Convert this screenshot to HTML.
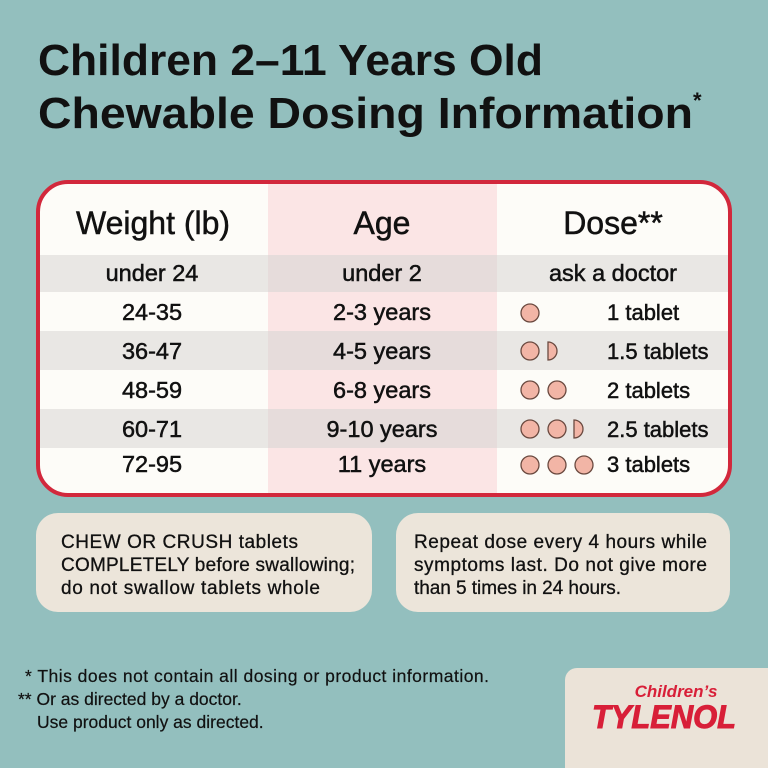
<!DOCTYPE html>
<html><head><style>body{margin:0}svg{display:block}</style></head><body>
<svg width="768" height="768" viewBox="0 0 768 768" xmlns="http://www.w3.org/2000/svg" font-family="Liberation Sans, sans-serif">
<rect width="768" height="768" fill="#93bfbe"/>
<g fill="#111" font-weight="bold">
<text x="38" y="75" font-size="44" textLength="505" lengthAdjust="spacingAndGlyphs">Children 2–11 Years Old</text>
<text x="38" y="128" font-size="44" textLength="655" lengthAdjust="spacingAndGlyphs">Chewable Dosing Information</text>
<text x="693" y="108" font-size="22">*</text>
</g>
<defs><clipPath id="c"><rect x="38" y="182" width="692" height="313" rx="30"/></clipPath></defs>
<g clip-path="url(#c)">
<rect x="38" y="182" width="692" height="313" fill="#fdfcf8"/>
<rect x="268" y="182" width="229" height="313" fill="#fbe5e5"/>
<rect x="38" y="255" width="692" height="37" fill="#e9e7e4"/>
<rect x="38" y="331" width="692" height="39" fill="#e9e7e4"/>
<rect x="38" y="409" width="692" height="39" fill="#e9e7e4"/>
<rect x="268" y="255" width="229" height="37" fill="#e6dcdb"/>
<rect x="268" y="331" width="229" height="39" fill="#e6dcdb"/>
<rect x="268" y="409" width="229" height="39" fill="#e6dcdb"/>
</g>
<rect x="38" y="182" width="692" height="313" rx="30" fill="none" stroke="#d2283c" stroke-width="4"/>
<g fill="#111" stroke="#111" stroke-width="0.5" text-anchor="middle">
<g font-size="32"><text x="153" y="234">Weight (lb)</text><text x="382" y="234">Age</text><text x="613" y="234">Dose**</text></g>
<g font-size="23.5">
<text x="152" y="281">under 24</text><text x="382" y="281">under 2</text><text x="613" y="281">ask a doctor</text>
<text x="152" y="320">24-35</text><text x="382" y="320">2-3 years</text>
<text x="152" y="359">36-47</text><text x="382" y="359">4-5 years</text>
<text x="152" y="398">48-59</text><text x="382" y="398">6-8 years</text>
<text x="152" y="437">60-71</text><text x="382" y="437">9-10 years</text>
<text x="152" y="472">72-95</text><text x="382" y="472">11 years</text>
</g>
<g font-size="22" text-anchor="start">
<text x="607" y="320">1 tablet</text><text x="607" y="359">1.5 tablets</text><text x="607" y="398">2 tablets</text><text x="607" y="437">2.5 tablets</text><text x="607" y="472">3 tablets</text>
</g>
</g>
<g fill="#f2b5a6" stroke="#6b4a40" stroke-width="1.3">
<circle cx="530" cy="313" r="9"/>
<circle cx="530" cy="351" r="9"/><path d="M548 342 a9 9 0 0 1 0 18 z"/>
<circle cx="530" cy="390" r="9"/><circle cx="557" cy="390" r="9"/>
<circle cx="530" cy="429" r="9"/><circle cx="557" cy="429" r="9"/><path d="M574 420 a9 9 0 0 1 0 18 z"/>
<circle cx="530" cy="465" r="9"/><circle cx="557" cy="465" r="9"/><circle cx="584" cy="465" r="9"/>
</g>
<rect x="36" y="513" width="336" height="99" rx="22" fill="#ece5da"/>
<rect x="396" y="513" width="334" height="99" rx="22" fill="#ece5da"/>
<g fill="#111" stroke="#111" stroke-width="0.3" font-size="19">
<text x="61" y="548" textLength="237">CHEW OR CRUSH tablets</text>
<text x="61" y="571" textLength="294">COMPLETELY before swallowing;</text>
<text x="61" y="594" textLength="259">do not swallow tablets whole</text>
<text x="414" y="548" textLength="293">Repeat dose every 4 hours while</text>
<text x="414" y="571" textLength="293">symptoms last. Do not give more</text>
<text x="414" y="594" textLength="207">than 5 times in 24 hours.</text>
</g>
<g fill="#111" stroke="#111" stroke-width="0.2" font-size="17.5">
<text x="25" y="682" textLength="464">* This does not contain all dosing or product information.</text>
<text x="18" y="705">** Or as directed by a doctor.</text>
<text x="37" y="728">Use product only as directed.</text>
</g>
<path d="M565 768 V680 a12 12 0 0 1 12 -12 H768 V768 Z" fill="#ebe3d8"/>
<text x="676" y="697" font-size="17" font-style="italic" font-weight="bold" fill="#d81f38" text-anchor="middle">Children’s</text>
<text x="592" y="728" font-size="32" font-style="italic" font-weight="bold" fill="#d81f38" stroke="#d81f38" stroke-width="1" textLength="144" lengthAdjust="spacingAndGlyphs">TYLENOL</text>
</svg>
</body></html>
